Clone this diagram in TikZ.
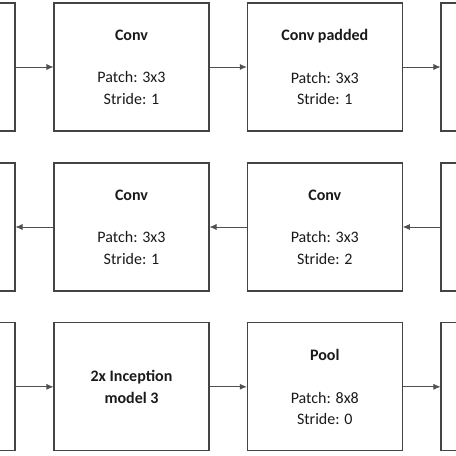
\documentclass[tikz,border=0pt]{standalone}
\usepackage{fontspec}
\setmainfont{Carlito}
\usetikzlibrary{arrows.meta}
\definecolor{boxline}{HTML}{444444}
\definecolor{arrline}{HTML}{505050}
\definecolor{txt}{HTML}{1A1A1A}
\begin{document}
\begin{tikzpicture}[x=1pt,y=1pt,
  blk/.style={draw=boxline, line width=1.1pt, fill=white, minimum width=155pt, minimum height=128pt,
    inner sep=0pt, align=center, text=txt, font=\fontsize{16}{21.3}\selectfont},
  conn/.style={draw=arrline, line width=0.7pt, -{Latex[length=7pt,width=6pt]}}]
\useasboundingbox (0,0) rectangle (456,456);
\clip (0,0) rectangle (456,456);
% row 1
\node[blk] (l1) at (-62.5,389) {};
\node[blk] (a1) at (131.5,389) {\textbf{Conv}\\[21.3pt]Patch: 3x3\\Stride: 1};
\node[blk] (b1) at (324.8,389) {\textbf{Conv padded}\\[21.3pt]Patch: 3x3\\Stride: 1};
\node[blk] (r1) at (518.5,389) {};
% row 2
\node[blk] (l2) at (-62.5,229) {};
\node[blk] (a2) at (131.5,229) {\textbf{Conv}\\[21.3pt]Patch: 3x3\\Stride: 1};
\node[blk] (b2) at (324.8,229) {\textbf{Conv}\\[21.3pt]Patch: 3x3\\Stride: 2};
\node[blk] (r2) at (518.5,229) {};
% row 3
\node[blk] (l3) at (-62.5,69.2) {};
\node[blk] (a3) at (131.5,69.2) {\textbf{2x Inception}\\\textbf{model 3}};
\node[blk] (b3) at (324.8,69.2) {\textbf{Pool}\\[21.3pt]Patch: 8x8\\Stride: 0};
\node[blk] (r3) at (518.5,69.2) {};
% connectors
\draw[conn] (l1) -- (a1);
\draw[conn] (a1) -- (b1);
\draw[conn] (b1) -- (r1);
\draw[conn] (r2) -- (b2);
\draw[conn] (b2) -- (a2);
\draw[conn] (a2) -- (l2);
\draw[conn] (l3) -- (a3);
\draw[conn] (a3) -- (b3);
\draw[conn] (b3) -- (r3);
\end{tikzpicture}
\end{document}
